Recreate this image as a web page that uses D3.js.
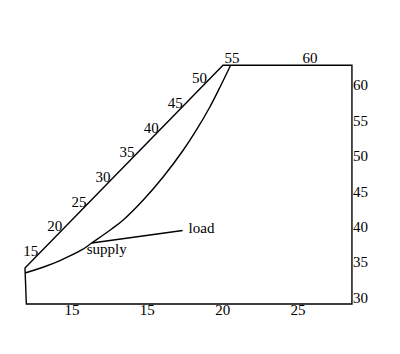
<!DOCTYPE html>
<html><head><meta charset="utf-8">
<script src="https://cdn.jsdelivr.net/npm/d3@7"></script>
<style>
html,body{margin:0;padding:0;background:#fff;}
svg{display:block;}
text{font-family:"Liberation Serif","Times New Roman",serif;font-size:15px;fill:#000;}
</style></head>
<body>
<svg id="chart" width="400" height="354"></svg>
<script>
// ---- data (chart units) ----
const bottomTickValues = [10, 15, 20, 25];
const bottomTickLabels = ["15", "15", "20", "25"];
const rightTicks = [30, 35, 40, 45, 50, 55, 60];
const topTicks = [55, 60];
const diagTicks = [15, 20, 25, 30, 35, 40, 45, 50];
const outlineX = [6.97, 28.58, 28.58, 20.02, 6.88];
const outlineY = [29.08, 29.08, 62.78, 62.78, 34.16];
const supplyX = [6.88, 8.21, 9.20, 10.64, 11.31, 12.63, 13.40, 14.73, 16.06, 17.39, 18.30, 19.13, 19.86, 20.52];
const supplyY = [33.46, 34.38, 35.22, 36.71, 37.69, 39.67, 40.94, 43.76, 47.05, 50.82, 53.79, 56.82, 59.86, 62.75];
const loadX = [11.31, 17.34];
const loadY = [37.69, 39.46];
const diagDomain = [12.57, 53.64]; // values at the two ends of the diagonal edge

// ---- scales ----
const x = d3.scaleLinear().domain([10, 25]).range([72, 298]);
const y = d3.scaleLinear().domain([30, 60]).range([297.5, 85]);
const xTop = d3.scaleLinear().domain([55, 60]).range([232, 310]);
// diagonal edge runs from outline vertex 4 to vertex 3
const dA = [x(outlineX[4]), y(outlineY[4])];
const dB = [x(outlineX[3]), y(outlineY[3])];
const diagT = d3.scaleLinear().domain(diagDomain).range([0, 1]);
const diagPt = v => { const t = diagT(v); return [dA[0] + t * (dB[0] - dA[0]), dA[1] + t * (dB[1] - dA[1])]; };

const svg = d3.select("#chart");
const line = d3.line().x(d => x(d[0])).y(d => y(d[1]));

// outline
svg.append("path")
  .attr("d", line(d3.zip(outlineX, outlineY)) + "Z")
  .attr("fill", "none").attr("stroke", "#000").attr("stroke-width", 1.4);

// supply curve
svg.append("path")
  .attr("d", d3.line().x(d => x(d[0])).y(d => y(d[1])).curve(d3.curveCatmullRom)(d3.zip(supplyX, supplyY)))
  .attr("fill", "none").attr("stroke", "#000").attr("stroke-width", 1.4);

// load line
svg.append("path")
  .attr("d", line(d3.zip(loadX, loadY)))
  .attr("fill", "none").attr("stroke", "#000").attr("stroke-width", 1.4);

// labels
svg.append("text").attr("x", x(loadX[0]) - 5).attr("y", y(loadY[0]) + 11).text("supply");
svg.append("text").attr("x", x(loadX[1]) + 6).attr("y", y(loadY[1]) + 3).text("load");

// bottom axis labels
svg.selectAll("text.bt").data(bottomTickValues).enter().append("text")
  .attr("class", "bt").attr("text-anchor", "middle")
  .attr("x", d => x(d)).attr("y", y(outlineY[0]) + 11)
  .text((d, i) => bottomTickLabels[i]);

// right axis labels
svg.selectAll("text.rt").data(rightTicks).enter().append("text")
  .attr("class", "rt").attr("text-anchor", "start")
  .attr("x", x(outlineX[1]) + 1).attr("y", d => y(d)).attr("dy", "0.35em")
  .text(d => d);

// top axis labels
svg.selectAll("text.tt").data(topTicks).enter().append("text")
  .attr("class", "tt").attr("text-anchor", "middle")
  .attr("x", d => xTop(d)).attr("y", y(outlineY[2]) - 2)
  .text(d => d);

// diagonal labels
svg.selectAll("text.dt").data(diagTicks).enter().append("text")
  .attr("class", "dt").attr("text-anchor", "end")
  .attr("x", d => diagPt(d)[0] + 1.5).attr("y", d => diagPt(d)[1])
  .text(d => d);
</script>
</body></html>
